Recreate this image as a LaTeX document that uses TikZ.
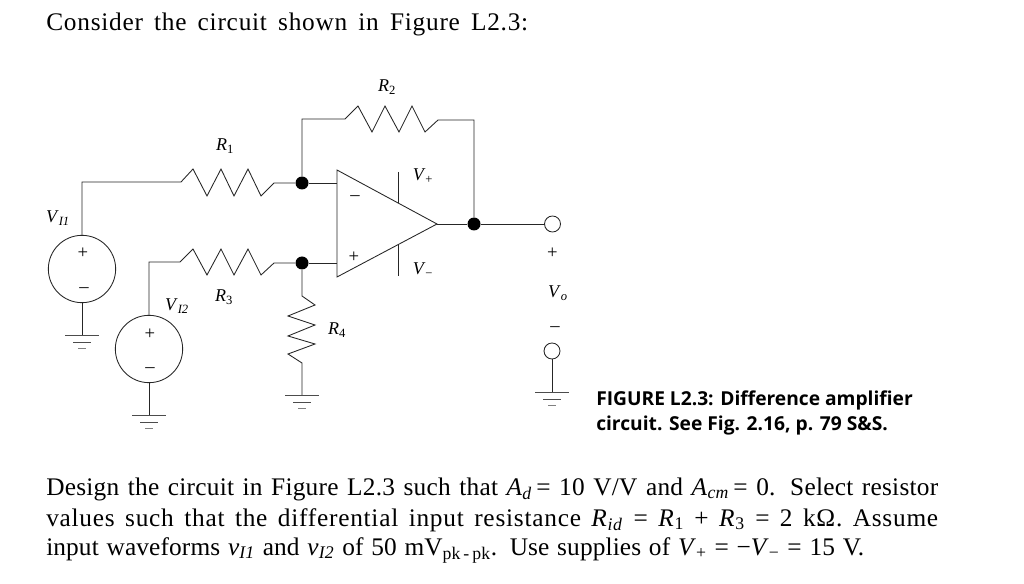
\documentclass[tikz,border=0pt]{standalone}
\usepackage{fontspec}
\setmainfont{Liberation Serif}
\newfontfamily\capfont{Open Sans}
\usetikzlibrary{calc}
\newcommand{\sbs}[1]{\textsubscript{\textit{#1}}}
\newcommand{\bodyline}[3]{\makebox[\dimexpr #1pt*3/4\relax][s]{\addfontfeature{LetterSpace=#2}#3}}
\tikzset{
  x=0.75pt,y=-0.75pt,
  wire/.style={draw=black!85,line width=0.65pt,line join=miter},
  dot/.style={circle,fill=black,inner sep=0pt,minimum size=9.75pt},
  src/.style={circle,draw=black!85,line width=0.65pt,inner sep=0pt,minimum size=50.5pt},
  term/.style={circle,draw=black!85,line width=0.65pt,fill=white,inner sep=0pt,minimum size=12pt},
  lab/.style={inner sep=0pt,font=\fontsize{13.5pt}{15pt}\selectfont},
  sgn/.style={inner sep=0pt,font=\fontsize{14pt}{15pt}\selectfont},
  txt/.style={inner sep=0pt,anchor=base west,font=\fontsize{19pt}{21pt}\selectfont},
  captxt/.style={inner sep=0pt,anchor=base west,font=\capfont\bfseries\fontsize{14.4pt}{16pt}\selectfont},
  amp/.style={draw=black!85,line width=0.65pt,line join=miter},
  gndline/.style={draw=black!70,line width=0.7pt}
}
\newcommand{\gnd}[1]{%
  \draw[gndline] ($(#1)+(-17,0)$) -- ($(#1)+(17,0)$);
  \draw[gndline] ($(#1)+(-9,7)$) -- ($(#1)+(9,7)$);
  \draw[gndline,draw=black!50] ($(#1)+(-4,13)$) -- ($(#1)+(4,13)$);}
\begin{document}
\begin{tikzpicture}
\useasboundingbox (0,0) rectangle (1024,584);
% nodes
\node[src] (s1) at (82,269) {};
\node[src] (s2) at (149,349) {};
\node[dot] (j1) at (302,183) {};
\node[dot] (j2) at (302,263) {};
\node[dot] (j3) at (474,224) {};
\node[term] (t1) at (552.5,224) {};
\node[term] (t2) at (552,351) {};
\coordinate (a) at (337,170);
\coordinate (b) at (337,277);
\coordinate (c) at (437,224);
\coordinate (inm) at (337,183);
\coordinate (inp) at (337,263);
\coordinate (g1) at (82,335);
\coordinate (g2) at (149,415);
\coordinate (g3) at (302,395);
\coordinate (g4) at (552,392);
\coordinate (vpt) at (398,172);
\coordinate (vpb) at (398,203);
\coordinate (vmt) at (398,245);
\coordinate (vmb) at (398,276);
\coordinate (r1a) at (181,182);
\coordinate (r3a) at (180,262);
\coordinate (r2a) at (345,119);
\coordinate (r2b) at (474,120);
\coordinate (r4a) at (302,296);
% op amp
\draw[amp] (a) -- (c) -- (b) -- cycle;
\draw[wire] (vpt) -- (vpb);
\draw[wire] (vmt) -- (vmb);
% wires
\draw[wire] (s1.north) |- (r1a) -- ++(12,-13) -- ++(14,27) -- ++(14,-27) -- ++(13,27) -- ++(14,-27) -- ++(13,27) -- ++(13,-13) -- (j1);
\draw[wire] (s2.north) |- (r3a) -- ++(13,-13) -- ++(14,26) -- ++(14,-26) -- ++(13,26) -- ++(14,-26) -- ++(13,26) -- ++(13,-12) -- (j2);
\draw[wire] (j1) |- (r2a) -- ++(13,-13) -- ++(14,26) -- ++(13,-26) -- ++(14,26) -- ++(13,-26) -- ++(13,26) -- ++(13,-12) -- (r2b) -- (j3);
\draw[wire] (j2) -- (r4a) -- ++(13,9) -- ++(-27,11) -- ++(27,9) -- ++(-27,11) -- ++(27,8) -- ++(-27,10) -- ++(14,9) -- (g3);
\draw[wire] (j1) -- (inm);
\draw[wire] (j2) -- (inp);
\draw[wire] (c) -- (j3) -- (t1);
\draw[wire] (s1.south) -- (g1);
\draw[wire] (s2.south) -- (g2);
\draw[wire] (t2) -- (g4);
\gnd{g1}\gnd{g2}\gnd{g3}\gnd{g4}
% labels
\node[lab] (lr1) at (225,146) {\textit{R}\textsubscript{1}};
\node[lab] (lr2) at (387,87) {\textit{R}\textsubscript{2}};
\node[lab] (lr3) at (224,297) {\textit{R}\textsubscript{3}};
\node[lab] (lr4) at (337,330) {\textit{R}\textsubscript{4}};
\node[lab] (lv1) at (58,218) {\textit{V}\sbs{I1}};
\node[lab] (lv2) at (177,306) {\textit{V}\sbs{I2}};
\node[lab] (lvp) at (423,176) {\textit{V}\textsubscript{+}};
\node[lab] (lvm) at (423,270) {\textit{V}\textsubscript{−}};
\node[lab] (lvo) at (558,293) {\textit{V}\sbs{o}};
\node[sgn] (p1) at (83,253) {+};
\node[sgn] (m1) at (84,290) {–};
\node[sgn] (p2) at (150,334) {+};
\node[sgn] (m2) at (150,370) {–};
\node[sgn] (oam) at (355,198) {–};
\node[sgn] (oap) at (354,257) {+};
\node[sgn] (op) at (552.5,253) {+};
\node[sgn] (om) at (555,329) {–};
% text
\node[txt] (t0) at (46,31) {\bodyline{482}{3}{Consider the circuit shown in Figure L2.3:}};
\node[txt] (l1) at (46,495) {\bodyline{892}{1}{Design the circuit in Figure L2.3 such that \textit{A}\sbs{d}\,= 10 V/V and \textit{A}\sbs{cm}\,= 0. Select resistor}};
\node[txt] (l2) at (46,526) {\bodyline{892}{3}{values such that the differential input resistance \textit{R}\sbs{id} = \textit{R}\textsubscript{1} + \textit{R}\textsubscript{3} = 2 kΩ. Assume}};
\node[txt] (l3) at (46,555) {\bodyline{818}{0.5}{input waveforms \textit{v}\sbs{I1} and \textit{v}\sbs{I2} of 50 mV\textsubscript{pk\,-\,pk}. Use supplies of \textit{V}\textsubscript{+} = −\textit{V}\textsubscript{−} = 15 V.}};
\node[captxt] (c1) at (596,405) {FIGURE L2.3: Difference amplifier};
\node[captxt] (c2) at (596,431) {circuit. See Fig. 2.16, p. 79 S\&S.};
\end{tikzpicture}
\end{document}
